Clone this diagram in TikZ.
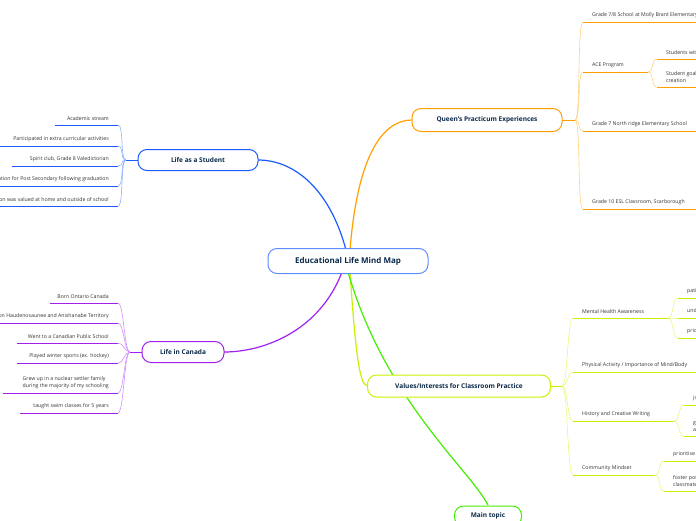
\documentclass[tikz,border=0pt]{standalone}
\usepackage{fontspec}
\setmainfont{Open Sans}
\definecolor{cOr}{HTML}{FFA000}\definecolor{cOrL}{HTML}{FFD27F}
\definecolor{cBl}{HTML}{1A5CFF}\definecolor{cBlL}{HTML}{8FB0FF}
\definecolor{cPu}{HTML}{A020F0}\definecolor{cPuL}{HTML}{D090FF}
\definecolor{cYe}{HTML}{CCF000}\definecolor{cYeL}{HTML}{E6F880}
\definecolor{cGr}{HTML}{44EE00}\definecolor{cNavy}{HTML}{0B2A4A}
\definecolor{cTx}{HTML}{333333}
\tikzset{
 topic/.style={draw=#1,line width=1pt,rounded corners=9pt,fill=white,font=\fontsize{6.5}{7}\selectfont\bfseries,text=cNavy,inner ysep=5pt,inner xsep=12pt},
 leaf/.style={font=\fontsize{5.2}{7}\selectfont,text=cTx,align=left,inner sep=1pt},
}
\newcommand{\leafR}[5]{%
 \draw[#1,line width=1pt] (#2,#4) -- (#3,#4);
 \node[leaf,anchor=south west] at (#2+8,#4-3) {#5};}
\newcommand{\leafL}[5]{%
 \draw[#1,line width=1pt] (#2,#4) -- (#3,#4);
 \node[leaf,anchor=south east,align=left] at (#3-8,#4-3) {#5};}
\newcommand{\brc}[5]{\draw[#1,line width=0.6pt] (#2,#3) .. controls (#2+6,#3) and (#4-6,#5) .. (#4,#5);}
\begin{document}
\begin{tikzpicture}[x=1pt,y=-1pt]
\useasboundingbox (0,0) rectangle (696,520);
\clip (0,0) rectangle (696,520);
\draw[cOr,line width=1.2pt] (350,250) .. controls (358,150) and (385,120) .. (412,120);
\draw[cBl,line width=1.2pt] (346,250) .. controls (330,190) and (295,160) .. (258,160);
\draw[cPu,line width=1.2pt] (342,272) .. controls (320,330) and (265,352) .. (224,352);
\draw[cYe,line width=1.2pt] (350,272) .. controls (356,360) and (360,386) .. (368,386);
\draw[cGr,line width=1.2pt] (348,272) .. controls (385,400) and (470,470) .. (488,505);
\node[topic=cBl!70,font=\fontsize{8}{9}\selectfont\bfseries,minimum width=160pt,minimum height=25pt] (root) at (348,261) {Educational Life Mind Map};
\node[topic=cOr,minimum width=150pt,minimum height=23pt] (q) at (487,120) {Queen's Practicum Experiences};
\node[topic=cBl,minimum width=120pt,minimum height=21pt] (s) at (198,160) {Life as a Student};
\node[topic=cPu,minimum width=82pt,minimum height=21pt] (ca) at (183,352) {Life in Canada};
\node[topic=cYe,minimum width=183pt,minimum height=22pt] (v) at (459,386) {Values/Interests for Classroom Practice};
\node[topic=cGr,minimum width=67pt,minimum height=20pt] (m) at (488,516) {Main topic};
\draw[cOr,line width=0.8pt] (562,120) -- (575,120);
\foreach \y in {22,72,131,209}{\brc{cOrL}{575}{120}{583}{\y}}
\leafR{cOr}{583}{700}{22}{Grade 7/8 School at Molly Brant Elementary}
\leafR{cOr}{583}{648}{72}{ACE Program}
\leafR{cOr}{583}{700}{131}{Grade 7 North ridge Elementary School}
\leafR{cOr}{583}{700}{209}{Grade 10 ESL Classroom, Scarborough}
\foreach \y in {59,87}{\brc{cOrL}{648}{72}{657}{\y}}
\leafR{cOr}{657}{700}{59}{Students with}
\leafR{cOr}{657}{700}{87}{Student goals\\creation}
\draw[cBl,line width=0.8pt] (138,160) -- (126,160);
\foreach \y in {125,146,166,186,206}{\brc{cBlL}{118}{\y}{126}{160}}
\leafL{cBl}{55}{118}{125}{Academic stream}
\leafL{cBl}{0}{118}{146}{Participated in extra curricular activities}
\leafL{cBl}{12}{118}{166}{Spirit club, Grade 8 Valedictorian}
\leafL{cBl}{0}{118}{186}{Pursued education for Post Secondary following graduation}
\leafL{cBl}{0}{118}{206}{Education was valued at home and outside of school}
\draw[cPu,line width=0.8pt] (142,352) -- (130,352);
\foreach \y in {303,323,343,363,393,413}{\brc{cPuL}{118}{\y}{130}{352}}
\leafL{cPu}{50}{118}{303}{Born Ontario Canada}
\leafL{cPu}{0}{118}{323}{Grew up on Haudenosaunee and Anishanabe Territory}
\leafL{cPu}{17}{118}{343}{Went to a Canadian Public School}
\leafL{cPu}{17}{118}{363}{Played winter sports (ex. hockey)}
\leafL{cPu}{3}{118}{393}{Grew up in a nuclear settler family\\during the majority of my schooling}
\leafL{cPu}{20}{118}{413}{taught swim classes for 5 years}
\draw[cYe,line width=0.8pt] (551,386) -- (562,386);
\foreach \y in {318,372,421,475}{\brc{cYeL}{562}{386}{573}{\y}}
\leafR{cYe}{573}{668}{318}{Mental Health Awareness}
\leafR{cYe}{573}{700}{372}{Physical Activity / Importance of Mind/Body}
\leafR{cYe}{573}{674}{421}{History and Creative Writing}
\leafR{cYe}{573}{655}{475}{Community Mindset}
\foreach \y in {298,318,338}{\brc{cYeL}{668}{318}{678}{\y}}
\leafR{cYe}{678}{700}{298}{patience}
\leafR{cYe}{678}{700}{318}{understanding}
\leafR{cYe}{678}{700}{338}{prioritise}
\foreach \y in {405,436}{\brc{cYeL}{674}{421}{684}{\y}}
\leafR{cYe}{684}{700}{405}{journaling}
\leafR{cYe}{684}{700}{436}{global\\awareness}
\foreach \y in {461,491}{\brc{cYeL}{655}{475}{664}{\y}}
\leafR{cYe}{664}{700}{461}{prioritise belonging}
\leafR{cYe}{664}{700}{491}{foster positive\\classmates}
\end{tikzpicture}
\end{document}
